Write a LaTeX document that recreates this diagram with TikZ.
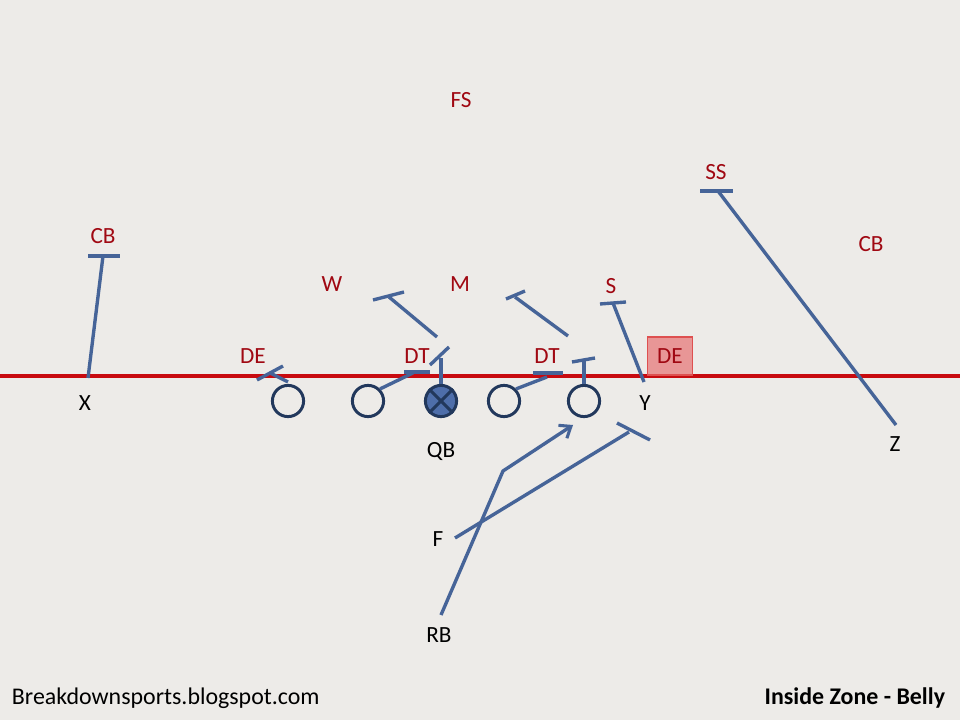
\documentclass[tikz,border=0pt]{standalone}
\usepackage{fontspec}
\setmainfont{Carlito}
\usetikzlibrary{arrows.meta}
\definecolor{bgray}{RGB}{237,235,232}
\definecolor{losred}{RGB}{200,10,15}
\definecolor{defred}{RGB}{160,8,18}
\definecolor{route}{RGB}{70,100,152}
\definecolor{navy}{RGB}{34,56,92}
\definecolor{qbfill}{RGB}{78,110,170}
\definecolor{boxfill}{RGB}{232,150,150}
\definecolor{boxline}{RGB}{222,80,80}

\begin{document}
\begin{tikzpicture}
[x=0.025cm,y=-0.025cm,
%%%%%%%%%%%%%%%%%%%%%%%%%%%%%%
player/.style={circle,draw=navy,line width=2.1pt,minimum size=0.78cm,inner sep=0pt},
off/.style={text=black,font=\fontsize{16.5}{19}\selectfont},
def/.style={text=defred,font=\fontsize{16.5}{19}\selectfont},
path/.style={draw=route,line width=2.4pt},
]%%%%%%%%%%%%%%%%%%%%%%%%%%%%%%
\fill[bgray] (0,0) rectangle (960,720);
\useasboundingbox (0,0) rectangle (960,720);

% line of scrimmage
\coordinate (losl) at (0,376);
\coordinate (losr) at (960,376);
\draw[losred,line width=2.4pt] (losl) -- (losr);

% offensive line
\foreach \name/\x in {lt/288,lg/368,rg/504,rt/584}
\node[player] (\name) at (\x,401){};
\node[player,fill=qbfill] (c) at (441,401){};
\draw[navy,line width=2.1pt] (c.north west) -- (c.south east);
\draw[navy,line width=2.1pt] (c.north east) -- (c.south west);

% offense labels
\node[off] (x) at (85,403){X};
\node[off] (y) at (645,403){Y};
\node[off] (z) at (895,444){Z};
\node[off] (qb) at (441,452){QB};
\node[off] (f) at (438,539){F};
\node[off] (rb) at (439,635){RB};

% defense
\node[def] (fs) at (461,100){FS};
\node[def] (ss) at (716,172){SS};
\node[def] (cbl) at (103,236){CB};
\node[def] (cbr) at (871,244){CB};
\node[def] (w) at (332,284){W};
\node[def] (m) at (460,284){M};
\node[def] (s) at (611,286){S};
\node[def] (del) at (253,356){DE};
\node[def] (dtl) at (417,356){DT};
\node[def] (dtr) at (547,356){DT};
\node[def,rectangle,fill=boxfill,draw=boxline,line width=1.2pt,
minimum width=1.12cm,minimum height=0.95cm] (der) at (670,356){DE};

% X on corner
\coordinate (xa) at (88,378);
\coordinate (xb) at (103,256);
\draw[path] (xa) -- (xb);
\draw[path] (88,256) -- (120,256);

% Z on strong safety
\coordinate (za) at (896,425);
\coordinate (zb) at (718,191);
\draw[path] (za) -- (zb);
\draw[path] (700,191) -- (733,191);

% left tackle
\coordinate (lta) at (270,373);
\draw[path] (lt.north) ++(0,-2) -- (lta);
\draw[path] (257,380) -- (283,366);

% left guard
\coordinate (lga) at (413,373);
\draw[path] (lg.north east) -- (lga);
\draw[path] (404,372) -- (430,372);

% center, then up to W
\coordinate (ca) at (441,358);
\draw[path] (c.north) -- (ca);
\draw[path] (430,365) -- (449,347);
\coordinate (cb) at (437,337);
\coordinate (cc) at (389,297);
\draw[path] (cb) -- (cc);
\draw[path] (373,300) -- (404,292);

% right guard, then up to M
\coordinate (rga) at (547,377);
\draw[path] (rg.north east) -- (rga);
\draw[path] (533,373) -- (563,373);
\coordinate (rgb) at (568,336);
\coordinate (rgc) at (515,297);
\draw[path] (rgb) -- (rgc);
\draw[path] (506,299) -- (525,291);

% right tackle
\coordinate (rta) at (584,360);
\draw[path] (rt.north) -- (rta);
\draw[path] (572,362) -- (595,358);

% Y on S
\coordinate (ya) at (644,382);
\coordinate (yb) at (613,303);
\draw[path] (ya) -- (yb);
\draw[path] (600,304) -- (626,302);

% RB track
\coordinate (rba) at (441,615);
\coordinate (rbb) at (503,471);
\coordinate (rbc) at (573,425);
\draw[path,-{Straight Barb[length=7pt,width=11pt,line width=2.2pt]}] (rba) -- (rbb) -- (rbc);

% F kick out
\coordinate (fa) at (455,538);
\coordinate (fb) at (629,432);
\draw[path] (fa) -- (fb);
\draw[path] (617,423) -- (650,440);

% captions
\node[font=\fontsize{17}{20}\selectfont,anchor=west] (blog) at (7,698){Breakdownsports.blogspot.com};
\node[font=\fontsize{17}{20}\selectfont\bfseries,anchor=east] (title) at (950,698){Inside Zone - Belly};
\end{tikzpicture}
\end{document}
